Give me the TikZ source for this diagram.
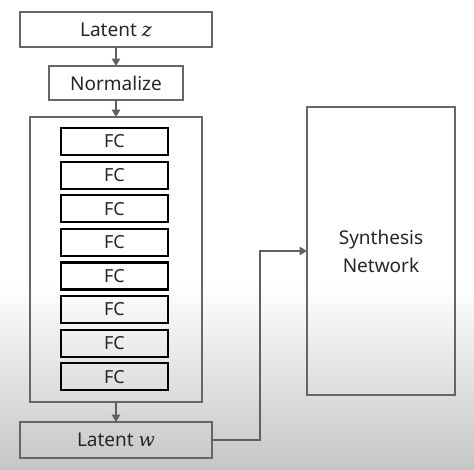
\documentclass[tikz,border=0pt]{standalone}
\usepackage{fontspec}
\setmainfont{Noto Sans}
\newfontfamily\varfont{DejaVu Serif}
\usepackage{tikz}
\usetikzlibrary{positioning}
\usetikzlibrary{arrows.meta}

\begin{document}
\begin{tikzpicture}[x=1pt,y=-1pt,->,>={Triangle[width=8.5pt,length=7.5pt]},node distance = 6.6pt,line width=1.8pt]
\tikzstyle{box}=[draw=gray!80!black,outer sep=0pt,text=black!85,font=\fontsize{19}{28}\selectfont]
\tikzstyle{fc}=[draw=black,line width=2.2pt,outer sep=0pt,minimum width=107pt,minimum height=27pt,text=black!85,font=\fontsize{18}{22}\selectfont]
\tikzstyle{link}=[gray!75!black,line width=1.6pt]
% background
\useasboundingbox (0,0) rectangle (474,469);
\fill[white] (0,0) rectangle (474,283);
\shade[top color=white,bottom color=gray!45,draw=none] (0,283) rectangle (474,469);
\node[box, minimum width=192pt, minimum height=35pt]	(latz)	at (116,29.5)	{Latent {\varfont\itshape z}};
\node[box, minimum width=134pt, minimum height=34pt]	(norm)	at (116,83)	{Normalize};
\node[box, minimum width=172pt, minimum height=285pt]	(map)	at (116,259.5)	{};
\node[fc]	(fc1)	at (114.5,141.5)	{FC};
\node[fc]	(fc2)	[below= of fc1]	{FC};
\node[fc]	(fc3)	[below= of fc2]	{FC};
\node[fc]	(fc4)	[below= of fc3]	{FC};
\node[fc]	(fc5)	[below= of fc4]	{FC};
\node[fc]	(fc6)	[below= of fc5]	{FC};
\node[fc]	(fc7)	[below= of fc6]	{FC};
\node[fc]	(fc8)	[below= of fc7]	{FC};
\node[box, minimum width=192pt, minimum height=36pt]	(latw)	at (116,440)	{Latent {\varfont\itshape w}};
\node[box, minimum width=148pt, minimum height=288pt, align=center]	(synth)	at (381,251)	{Synthesis\\Network};
\coordinate	(bend)	at (260,440);
\path[link]	(latz)	edge	node	{}	(norm)
	(norm)	edge	node	{}	(map)
	(map)	edge	node	{}	(latw);
\draw[link]	(latw) -- (bend) |- (synth);
\end{tikzpicture}
\end{document}
